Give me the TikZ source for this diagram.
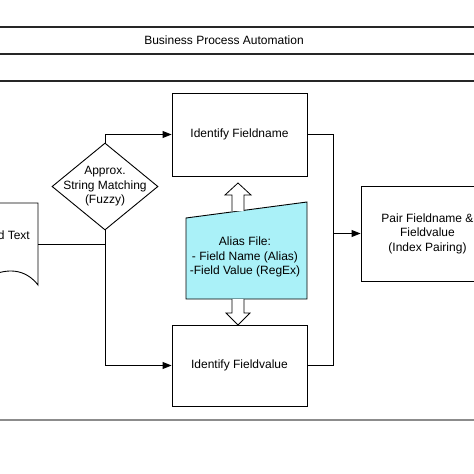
\documentclass[tikz,border=0pt]{standalone}
\usepackage{fontspec}
\setmainfont{Liberation Sans}
\usetikzlibrary{arrows.meta,shapes.geometric}
\definecolor{aliascyan}{RGB}{170,241,248}

\begin{document}
\begin{tikzpicture}[x=1pt,y=-1pt,>={Triangle[length=9pt,width=7pt]},
  font=\fontsize{12}{14.5}\selectfont,
  stepbox/.style={draw, line width=0.9pt, minimum width=135pt, inner sep=0pt},
  lane/.style={line width=1.3pt, black!85},
  conn/.style={line width=0.9pt}]
\useasboundingbox (0,0) rectangle (474,474);
\clip (0,0) rectangle (474,474);

% lanes
\draw [lane] (0,27) -- (474,27);
\draw [lane] (0,54) -- (474,54);
\draw [lane] (0,81) -- (474,81);
\draw [line width=1.3pt, black!45] (0,420) -- (474,420);
\node (title) at (224,40) {Business Process Automation};

% steps
\node (fieldname) [stepbox, minimum height=83pt] at (239.5,134.5) {Identify Fieldname};
\node (fieldvalue) [stepbox, minimum height=81pt] at (239.5,365.5) {Identify Fieldvalue};
\node (pairing) [stepbox, minimum width=133pt, minimum height=95pt, align=center] at (427.5,233.5)
  {Pair Fieldname \&\\Fieldvalue\\(Index Pairing)};
\node (approx) [diamond, draw, line width=0.9pt, minimum width=106pt, minimum height=87pt, inner sep=0pt] at (105,186.5) {};
\node [align=center] at (approx) {Approx.\\String Matching\\(Fuzzy)};

% document
\draw [line width=0.9pt, fill=white] (-60,203) -- (38,203) -- (38,285)
  .. controls (28,272) and (12,266) .. (-10,276) -- (-60,276) -- cycle;
\node (doc) [anchor=east, inner sep=0pt] at (30,235) {d Text};
\coordinate (doc out) at (38,244);

% alias file
\draw [line width=0.9pt, fill=aliascyan] (186,218) -- (307,202) -- (307,299) -- (186,299) -- cycle;
\node (alias) [align=center] at (245,257) {Alias File:\\- Field Name (Alias)\\-Field Value (RegEx)};
\draw [line width=0.8pt, fill=white] (232,211) -- (232,195) -- (225,195) -- (238,183) -- (251,195) -- (244,195) -- (244,211);
\draw [line width=0.8pt, fill=white] (232,299) -- (232,313) -- (226,313) -- (238,325) -- (250,313) -- (244,313) -- (244,299);

% connectors
\draw [conn] (doc out) -- (doc out -| approx.south);
\draw [conn, ->] (approx.north) |- (fieldname.west);
\draw [conn, ->] (approx.south) |- (fieldvalue.west);
\draw [conn] (fieldname.east) -- ++(26,0) coordinate (merge) |- (fieldvalue.east);
\draw [conn, ->] (merge |- pairing.west) -- (pairing.west);
\end{tikzpicture}
\end{document}
